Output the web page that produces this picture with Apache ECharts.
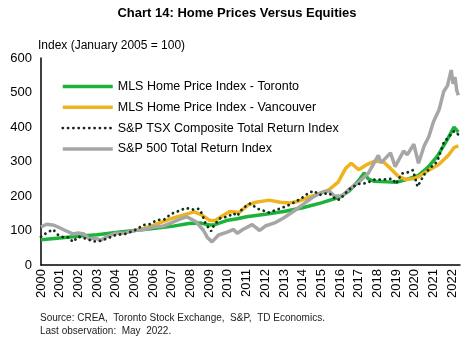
<!DOCTYPE html>
<html>
<head>
<meta charset="utf-8">
<script src="https://cdn.jsdelivr.net/npm/echarts@6/dist/echarts.min.js"></script>
<style>
  html, body { margin: 0; padding: 0; background: #fff; }
  #chart { width: 474px; height: 351px; }
</style>
</head>
<body>
<div id="chart"></div>
<script>
// data (x = decimal year)
const torontoYears = [2000, 2001, 2002, 2003, 2004, 2005, 2006, 2007, 2007.9, 2008.5, 2009, 2009.3, 2010, 2010.5, 2011, 2012, 2013, 2014, 2015, 2016, 2016.5, 2017, 2017.3, 2017.5, 2017.8, 2018.5, 2019, 2019.7, 2020.2, 2020.7, 2021.2, 2021.7, 2022.1, 2022.33]
const torontoValues = [73, 78, 83, 88, 94, 100, 106, 112, 120, 122, 116, 117, 130, 134, 140, 147, 155, 166, 180, 197, 215, 245, 267, 250, 243, 241, 240, 250, 260, 283, 315, 360, 400, 385]

const vancouverYears = [2005, 2005.5, 2006, 2006.5, 2007, 2007.5, 2008.2, 2008.6, 2009, 2009.3, 2009.7, 2010.1, 2010.6, 2011.1, 2011.5, 2012.2, 2012.8, 2013.3, 2013.8, 2014.3, 2014.8, 2015.4, 2015.9, 2016.3, 2016.6, 2017, 2017.4, 2017.8, 2018.3, 2018.7, 2019.1, 2019.5, 2019.9, 2020.2, 2020.75, 2021.3, 2021.8, 2022.1, 2022.33]
const vancouverValues = [100, 106, 115, 125, 135, 143, 154, 145, 130, 128, 142, 155, 152, 175, 182, 188, 182, 180, 185, 196, 205, 218, 240, 280, 295, 276, 290, 300, 300, 280, 258, 248, 250, 256, 275, 292, 318, 340, 345]

const tsxYears = [2000, 2000.3, 2000.65, 2000.9, 2001.2, 2001.5, 2001.7, 2002, 2002.5, 2002.8, 2003.2, 2003.6, 2004, 2004.5, 2005, 2005.5, 2005.8, 2006.2, 2006.6, 2006.95, 2007.3, 2007.75, 2008.2, 2008.45, 2008.6, 2008.8, 2009.1, 2009.25, 2009.6, 2010, 2010.3, 2010.5, 2010.8, 2011.2, 2011.6, 2012.2, 2012.6, 2013, 2013.4, 2013.9, 2014.3, 2014.6, 2014.9, 2015.4, 2015.8, 2016, 2016.3, 2016.6, 2017, 2017.4, 2017.8, 2018.3, 2018.8, 2019, 2019.3, 2019.6, 2019.9, 2020.15, 2020.5, 2020.75, 2021.2, 2021.55, 2021.8, 2022.1, 2022.33]
const tsxValues = [82, 93, 103, 88, 80, 80, 67, 82, 75, 68, 70, 78, 87, 90, 100, 116, 118, 130, 132, 148, 155, 165, 160, 163, 150, 120, 98, 115, 136, 140, 150, 142, 165, 178, 163, 152, 160, 168, 177, 192, 208, 215, 203, 209, 189, 190, 209, 224, 235, 237, 247, 248, 250, 235, 265, 268, 275, 227, 262, 277, 300, 355, 370, 388, 378]

const spYears = [2000, 2000.3, 2000.7, 2001, 2001.3, 2001.7, 2002, 2002.3, 2002.6, 2002.9, 2003.2, 2003.5, 2004, 2004.5, 2005, 2005.5, 2006, 2006.5, 2007, 2007.4, 2007.8, 2008.3, 2008.7, 2008.9, 2009.15, 2009.5, 2010, 2010.3, 2010.5, 2010.8, 2011.3, 2011.7, 2012, 2012.5, 2013, 2013.5, 2014, 2014.5, 2015, 2015.4, 2015.7, 2016.1, 2016.5, 2017, 2017.5, 2018.05, 2018.2, 2018.7, 2018.95, 2019.4, 2019.6, 2019.95, 2020.2, 2020.5, 2020.75, 2021, 2021.3, 2021.55, 2021.75, 2021.95, 2022.05, 2022.15, 2022.25, 2022.33]
const spValues = [110, 118, 115, 108, 100, 90, 93, 90, 75, 78, 72, 82, 92, 93, 100, 103, 110, 112, 123, 132, 140, 125, 100, 80, 67, 87, 96, 103, 92, 103, 117, 100, 113, 122, 137, 155, 175, 195, 210, 215, 200, 200, 220, 240, 265, 318, 296, 325, 285, 330, 320, 350, 295, 345, 372, 415, 450, 503, 520, 565, 525, 545, 505, 492]

const pairs = (xs, ys) => xs.map((x, i) => [x, ys[i]])

const font = 'Arial, "Liberation Sans", sans-serif'
const chart = echarts.init(document.getElementById('chart'))

const option = {
  animation: false,
  textStyle: { fontFamily: font },
  title: {
    text: 'Chart 14: Home Prices Versus Equities',
    left: 'center',
    top: 2,
    textStyle: { fontSize: 13, fontWeight: 'bold', color: '#000', fontFamily: font }
  },
  graphic: [
    {
      type: 'text',
      left: 38,
      top: 40,
      style: { text: 'Index (January 2005 = 100)', fontSize: 12, fill: '#000', fontFamily: font }
    },
    {
      type: 'text',
      left: 40,
      top: 312,
      style: {
        text: 'Source: CREA,  Toronto Stock Exchange,  S&P,  TD Economics.\nLast observation:  May  2022.',
        fontSize: 10,
        lineHeight: 13,
        fill: '#222',
        fontFamily: font
      }
    }
  ],
  legend: {
    orient: 'vertical',
    left: 56,
    top: 75,
    itemWidth: 50,
    itemHeight: 14,
    itemGap: 7.8,
    data: ['MLS Home Price Index - Toronto', 'MLS Home Price Index - Vancouver', 'S&P TSX Composite Total Return Index', 'S&P 500 Total Return Index'],
    textStyle: { fontSize: 12.5, color: '#000', fontFamily: font },
    lineStyle: { width: 'inherit' },
    itemStyle: { color: 'rgba(0,0,0,0)', borderWidth: 0 }
  },
  grid: { left: 41, right: 14, top: 58, bottom: 86 },
  xAxis: {
    type: 'value',
    min: 2000,
    max: 2022.42,
    interval: 1,
    axisLine: { lineStyle: { color: '#000', width: 1.5 } },
    axisTick: { show: false },
    splitLine: { show: false },
    axisLabel: {
      rotate: 90,
      fontSize: 13,
      color: '#000',
      margin: 4,
      formatter: v => Number.isInteger(v) ? String(v) : ''
    }
  },
  yAxis: {
    type: 'value',
    min: 0,
    max: 600,
    interval: 100,
    axisLine: { show: true, lineStyle: { color: '#000', width: 1.5 } },
    axisTick: { show: false },
    splitLine: { show: false },
    axisLabel: { fontSize: 13, color: '#000', margin: 9 }
  },
  series: [
    {
      name: 'MLS Home Price Index - Toronto',
      type: 'line',
      data: pairs(torontoYears, torontoValues),
      symbol: 'none',
      lineStyle: { color: '#1cb33a', width: 3.5 },
      itemStyle: { color: '#1cb33a' }
    },
    {
      name: 'MLS Home Price Index - Vancouver',
      type: 'line',
      data: pairs(vancouverYears, vancouverValues),
      symbol: 'none',
      lineStyle: { color: '#eeb31f', width: 3.5 },
      itemStyle: { color: '#eeb31f' }
    },
    {
      name: 'S&P 500 Total Return Index',
      type: 'line',
      data: pairs(spYears, spValues),
      symbol: 'none',
      lineStyle: { color: '#a6a6a6', width: 3.5 },
      itemStyle: { color: '#a6a6a6' }
    },
    {
      name: 'S&P TSX Composite Total Return Index',
      type: 'line',
      data: pairs(tsxYears, tsxValues),
      symbol: 'none',
      lineStyle: { color: '#15301a', width: 2.8, type: [0.1, 5.2], cap: 'round' },
      itemStyle: { color: '#15301a' }
    }
  ]
}

chart.setOption(option)
</script>
</body>
</html>
